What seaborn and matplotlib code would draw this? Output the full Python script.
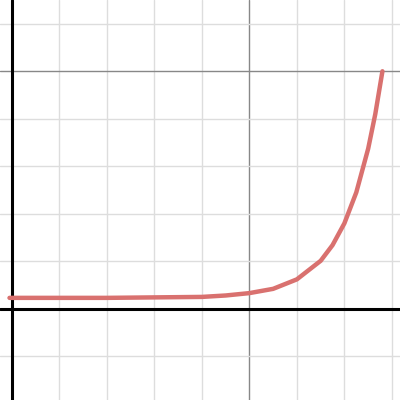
"""Exponential curve on a graph-paper style grid."""

import matplotlib.pyplot as plt
import numpy as np
import seaborn as sns

sns.set_style("white")

# Points
x_vals = [-0.05, 1, 2, 3, 4, 4.5, 5, 5.5, 6, 6.5, 6.75, 7, 7.25, 7.5, 7.65, 7.8]
y_vals = [0.23, 0.23, 0.23, 0.24, 0.25, 0.28, 0.33, 0.42, 0.62, 1.01, 1.34, 1.80, 2.45, 3.37, 4.1, 5.0]

fig = plt.figure(figsize=(4, 4), dpi=100)
ax = fig.add_axes([0, 0, 1, 1])
ax.set_xlim(-0.25, 8.17)
ax.set_ylim(-1.92, 6.5)

# Grid: minor every unit, major every five
for k in range(-1, 9):
    c = "#888888" if k % 5 == 0 else "#dddddd"
    ax.axvline(k, color=c, linewidth=1, zorder=0)
for k in range(-2, 7):
    c = "#888888" if k % 5 == 0 else "#dddddd"
    ax.axhline(k, color=c, linewidth=1, zorder=0)
ax.axvline(0, color="black", linewidth=2.2, zorder=1)
ax.axhline(0, color="black", linewidth=2.2, zorder=1)

sns.lineplot(x=x_vals, y=y_vals, ax=ax, color="#d9716f", linewidth=3.2, zorder=2)

ax.set_xticks([])
ax.set_yticks([])
for s in ax.spines.values():
    s.set_visible(False)

fig.savefig("out.png", dpi=100)
